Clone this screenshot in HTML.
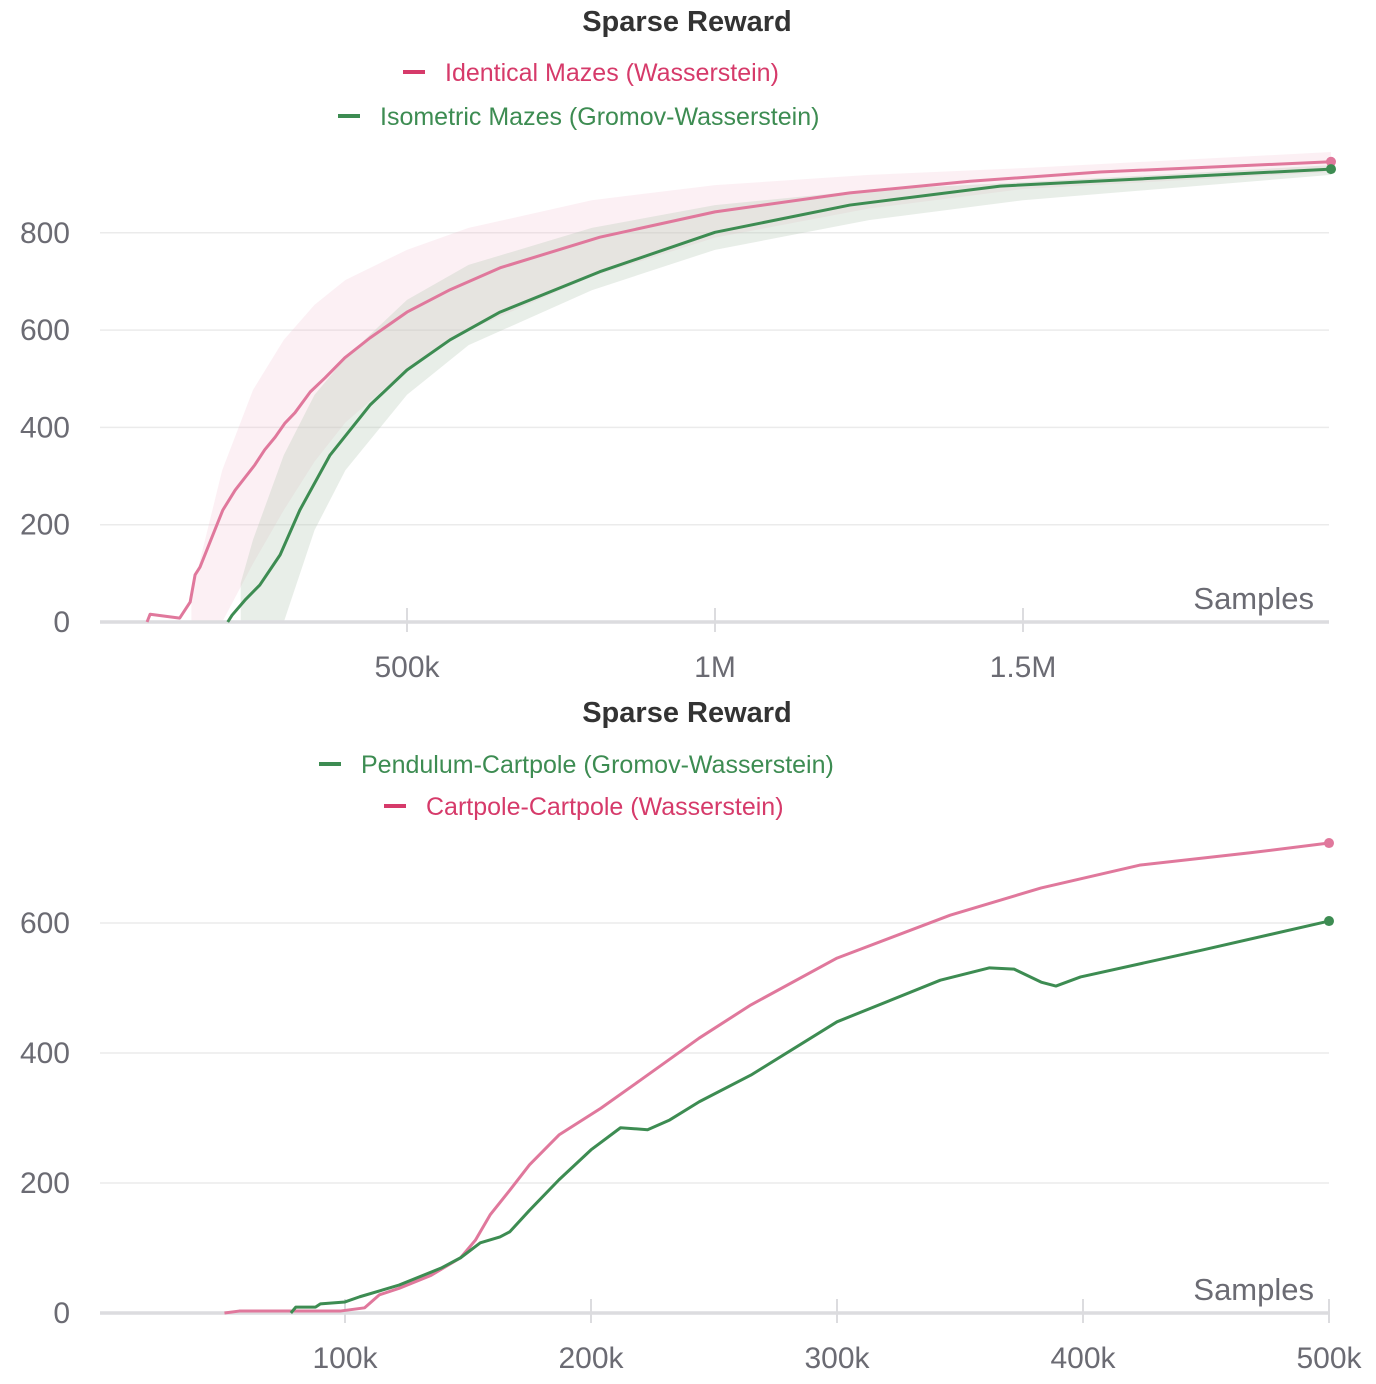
<!DOCTYPE html>
<html><head><meta charset="utf-8">
<style>
html,body{margin:0;padding:0;background:#fff;}
svg{display:block;font-family:"Liberation Sans",sans-serif;}
</style></head>
<body>
<svg id="chart" width="1376" height="1384" viewBox="0 0 1376 1384" xmlns="http://www.w3.org/2000/svg"></svg>
<script>
// ---- Top chart data (x in thousands of samples) ----
const topPinkX = [78,83,131,148,156,164,188,201,221,253,269,286,302,318,343,367,399,440,500,570,651,813,1000,1219,1414,1625,2000];
const topPinkY = [0,16,8,41,97,113,189,230,271,323,354,380,409,430,473,502,543,584,637,683,728,791,843,882,906,925,946];
const topGreenX = [209,216,237,261,294,326,375,440,500,570,651,813,1000,1219,1463,2000];
const topGreenY = [0,14,45,76,138,230,343,446,518,580,637,720,801,857,896,931];
const topPinkBandX = [150,200,250,300,350,400,500,600,800,1000,1250,1500,2000];
const topPinkUpper = [55,312,477,580,652,703,765,810,867,898,919,933,966];
const topPinkLower = [0,0,120,230,330,410,520,600,710,790,850,890,925];
const topGreenBandX = [230,250,300,350,400,500,600,800,1000,1250,1500,2000];
const topGreenUpper = [80,169,343,467,543,662,734,810,857,888,904,939];
const topGreenLower = [0,0,0,189,312,467,569,682,765,826,867,919];
const topYTicks = [0,200,400,600,800];
const topXTicks = [500,1000,1500];
const topXLabels = ["500k","1M","1.5M"];

// ---- Bottom chart data ----
const botPinkX = [51,57,98,108,114,122,135,147,153,159,167,175,187,204,220,244,265,300,346,383,423,468,500];
const botPinkY = [0,3,3,8,28,38,58,85,112,151,189,228,274,315,358,423,474,546,612,654,689,708,723];
const botGreenX = [78,80,88,90,100,106,122,139,147,155,163,167,175,187,200,212,223,232,244,265,300,342,362,372,383,389,399,448,500];
const botGreenY = [0,9,9,14,17,25,43,69,85,108,117,125,158,205,251,285,282,297,325,366,448,512,531,529,509,503,517,558,603];
const botYTicks = [0,200,400,600];
const botXTicks = [100,200,300,400,500];
const botXLabels = ["100k","200k","300k","400k","500k"];

const NS = "http://www.w3.org/2000/svg";
const svg = document.getElementById('chart');
function mk(tag, attrs, parent){ const e=document.createElementNS(NS,tag); for(const k in attrs) e.setAttribute(k,attrs[k]); (parent||svg).appendChild(e); return e; }
const PINK="#e0789c", GREEN="#3d8c52", PINKT="#d63a6a";

function drawChart(o){
  const g = mk('g',{});
  
  
  const sx = v => o.x0 + v*o.kx;
  const sy = v => o.y0 - v*o.ky;
  o.yTicks.forEach(t=>{
    if(t>0){ const l=mk('line',{x1:100,x2:1329,y1:sy(t),y2:sy(t),stroke:"#ebebeb","stroke-width":1.5},g);
        }
    const tx=mk('text',{x:70,y:sy(t)+10,"text-anchor":"end","font-size":30,fill:"#6b6b73"},g);
    tx.textContent=t;
     
  });
  (o.bands||[]).forEach(b=>{
    let d="";
    b.x.forEach((x,i)=>{ d+=(i?"L":"M")+sx(x)+","+sy(b.u[i]); });
    for(let i=b.x.length-1;i>=0;i--) d+="L"+sx(b.x[i])+","+sy(b.l[i]);
    const p=mk('path',{d:d+"Z",fill:b.c,"fill-opacity":b.op},g);
     
  });
  const ax=mk('line',{x1:100,x2:1329,y1:o.y0,y2:o.y0,stroke:"#dcdcdf","stroke-width":3.5},g);
   
  o.xTicks.forEach((t,i)=>{
    const l=mk('line',{x1:sx(t),x2:sx(t),y1:o.y0-14,y2:o.y0+10,stroke:"#dcdcdf","stroke-width":2},g);
     
    const tx=mk('text',{x:sx(t),y:o.y0+55,"text-anchor":"middle","font-size":30,fill:"#6b6b73"},g);
    tx.textContent=o.xLabels[i];
     
  });
  const st=mk('text',{x:1314,y:o.y0-13,"text-anchor":"end","font-size":31,fill:"#6b6b73"},g);
  st.textContent="Samples";
   
  o.series.forEach(s=>{
    const pts=s.x.map((x,i)=>sx(x)+","+sy(s.y[i])).join(" ");
    const pl=mk('polyline',{points:pts,fill:"none",stroke:s.c,"stroke-width":3,"stroke-linejoin":"round"},g);
     
    const n=s.x.length-1;
    const c=mk('circle',{cx:sx(s.x[n]),cy:sy(s.y[n]),r:5,fill:s.c},g);
     
  });
  const ti=mk('text',{x:687,y:o.titleY,"text-anchor":"middle","font-size":29,"font-weight":"bold",fill:"#333"},g);
  ti.textContent="Sparse Reward";
   
  o.legend.forEach(L=>{
    const le=mk('g',{},g);
     
    mk('line',{x1:L.x,x2:L.x+22,y1:L.y-9,y2:L.y-9,stroke:L.c,"stroke-width":4},le);
    const t=mk('text',{x:L.x+42,y:L.y,"font-size":25,fill:L.tc},le);
    t.textContent=L.t;
  });
}

drawChart({name:'top-chart',x0:99,kx:0.616,y0:622,ky:0.4865,yTicks:topYTicks,xTicks:topXTicks,xLabels:topXLabels,titleY:31,
  bands:[
    {name:'identical-mazes-band',x:topPinkBandX,u:topPinkUpper,l:topPinkLower,c:"#f3b9cc",op:0.22},
    {name:'isometric-mazes-band',x:topGreenBandX,u:topGreenUpper,l:topGreenLower,c:"#b8c9b6",op:0.32}
  ],
  series:[
    {name:'identical-mazes-line',x:topPinkX,y:topPinkY,c:PINK},
    {name:'isometric-mazes-line',x:topGreenX,y:topGreenY,c:GREEN}
  ],
  legend:[
    {x:403,y:81,c:PINKT,tc:PINKT,t:"Identical Mazes (Wasserstein)"},
    {x:338,y:125,c:GREEN,tc:GREEN,t:"Isometric Mazes (Gromov-Wasserstein)"}
  ]});

drawChart({name:'bottom-chart',x0:99,kx:2.46,y0:1313,ky:0.65,yTicks:botYTicks,xTicks:botXTicks,xLabels:botXLabels,titleY:722,
  bands:[],
  series:[
    {name:'cartpole-cartpole-line',x:botPinkX,y:botPinkY,c:PINK},
    {name:'pendulum-cartpole-line',x:botGreenX,y:botGreenY,c:GREEN}
  ],
  legend:[
    {x:319,y:773,c:GREEN,tc:GREEN,t:"Pendulum-Cartpole (Gromov-Wasserstein)"},
    {x:384,y:815,c:PINKT,tc:PINKT,t:"Cartpole-Cartpole (Wasserstein)"}
  ]});
</script>
</body></html>
